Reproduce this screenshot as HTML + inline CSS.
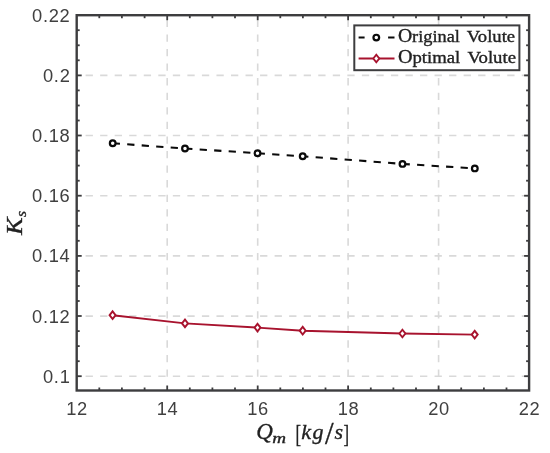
<!DOCTYPE html>
<html><head><meta charset="utf-8"><title>Chart</title>
<style>html,body{margin:0;padding:0;background:#fff}svg{display:block}.t{font-family:"Liberation Sans",sans-serif;font-size:18.3px;fill:#404040;letter-spacing:0.7px}.s{font-family:"Liberation Serif",serif;fill:#222;stroke:#222;stroke-width:0.35px}</style></head><body>
<svg width="550" height="453" viewBox="0 0 550 453">
<rect width="550" height="453" fill="#fff"/>
<g stroke="#d9d9d9" stroke-width="1.6" stroke-dasharray="7.3 7.24" fill="none">
<line x1="167.2" y1="376.8" x2="167.2" y2="15.2" stroke-dasharray="7.3 7.27"/>
<line x1="257.7" y1="376.8" x2="257.7" y2="15.2" stroke-dasharray="7.3 7.27"/>
<line x1="348.1" y1="376.8" x2="348.1" y2="15.2" stroke-dasharray="7.3 7.27"/>
<line x1="438.6" y1="376.8" x2="438.6" y2="15.2" stroke-dasharray="7.3 7.27"/>
<line x1="529.1" y1="376.2" x2="76.7" y2="376.2"/>
<line x1="529.1" y1="316.1" x2="76.7" y2="316.1"/>
<line x1="529.1" y1="255.9" x2="76.7" y2="255.9"/>
<line x1="529.1" y1="195.7" x2="76.7" y2="195.7"/>
<line x1="529.1" y1="135.5" x2="76.7" y2="135.5"/>
<line x1="529.1" y1="75.4" x2="76.7" y2="75.4"/>
</g>
<g stroke="#3d3d3f" stroke-width="1.8" fill="none">
<line x1="99.3" y1="390.5" x2="99.3" y2="387.5"/><line x1="99.3" y1="15.2" x2="99.3" y2="18.2"/>
<line x1="121.9" y1="390.5" x2="121.9" y2="387.5"/><line x1="121.9" y1="15.2" x2="121.9" y2="18.2"/>
<line x1="144.6" y1="390.5" x2="144.6" y2="387.5"/><line x1="144.6" y1="15.2" x2="144.6" y2="18.2"/>
<line x1="167.2" y1="390.5" x2="167.2" y2="385.5"/><line x1="167.2" y1="15.2" x2="167.2" y2="20.2"/>
<line x1="189.8" y1="390.5" x2="189.8" y2="387.5"/><line x1="189.8" y1="15.2" x2="189.8" y2="18.2"/>
<line x1="212.4" y1="390.5" x2="212.4" y2="387.5"/><line x1="212.4" y1="15.2" x2="212.4" y2="18.2"/>
<line x1="235.0" y1="390.5" x2="235.0" y2="387.5"/><line x1="235.0" y1="15.2" x2="235.0" y2="18.2"/>
<line x1="257.7" y1="390.5" x2="257.7" y2="385.5"/><line x1="257.7" y1="15.2" x2="257.7" y2="20.2"/>
<line x1="280.3" y1="390.5" x2="280.3" y2="387.5"/><line x1="280.3" y1="15.2" x2="280.3" y2="18.2"/>
<line x1="302.9" y1="390.5" x2="302.9" y2="387.5"/><line x1="302.9" y1="15.2" x2="302.9" y2="18.2"/>
<line x1="325.5" y1="390.5" x2="325.5" y2="387.5"/><line x1="325.5" y1="15.2" x2="325.5" y2="18.2"/>
<line x1="348.1" y1="390.5" x2="348.1" y2="385.5"/><line x1="348.1" y1="15.2" x2="348.1" y2="20.2"/>
<line x1="370.8" y1="390.5" x2="370.8" y2="387.5"/><line x1="370.8" y1="15.2" x2="370.8" y2="18.2"/>
<line x1="393.4" y1="390.5" x2="393.4" y2="387.5"/><line x1="393.4" y1="15.2" x2="393.4" y2="18.2"/>
<line x1="416.0" y1="390.5" x2="416.0" y2="387.5"/><line x1="416.0" y1="15.2" x2="416.0" y2="18.2"/>
<line x1="438.6" y1="390.5" x2="438.6" y2="385.5"/><line x1="438.6" y1="15.2" x2="438.6" y2="20.2"/>
<line x1="461.2" y1="390.5" x2="461.2" y2="387.5"/><line x1="461.2" y1="15.2" x2="461.2" y2="18.2"/>
<line x1="483.9" y1="390.5" x2="483.9" y2="387.5"/><line x1="483.9" y1="15.2" x2="483.9" y2="18.2"/>
<line x1="506.5" y1="390.5" x2="506.5" y2="387.5"/><line x1="506.5" y1="15.2" x2="506.5" y2="18.2"/>
<line x1="76.7" y1="376.2" x2="81.7" y2="376.2"/><line x1="529.1" y1="376.2" x2="524.1" y2="376.2"/>
<line x1="76.7" y1="361.2" x2="79.7" y2="361.2"/><line x1="529.1" y1="361.2" x2="526.1" y2="361.2"/>
<line x1="76.7" y1="346.1" x2="79.7" y2="346.1"/><line x1="529.1" y1="346.1" x2="526.1" y2="346.1"/>
<line x1="76.7" y1="331.1" x2="79.7" y2="331.1"/><line x1="529.1" y1="331.1" x2="526.1" y2="331.1"/>
<line x1="76.7" y1="316.0" x2="81.7" y2="316.0"/><line x1="529.1" y1="316.0" x2="524.1" y2="316.0"/>
<line x1="76.7" y1="301.0" x2="79.7" y2="301.0"/><line x1="529.1" y1="301.0" x2="526.1" y2="301.0"/>
<line x1="76.7" y1="286.0" x2="79.7" y2="286.0"/><line x1="529.1" y1="286.0" x2="526.1" y2="286.0"/>
<line x1="76.7" y1="270.9" x2="79.7" y2="270.9"/><line x1="529.1" y1="270.9" x2="526.1" y2="270.9"/>
<line x1="76.7" y1="255.9" x2="81.7" y2="255.9"/><line x1="529.1" y1="255.9" x2="524.1" y2="255.9"/>
<line x1="76.7" y1="240.8" x2="79.7" y2="240.8"/><line x1="529.1" y1="240.8" x2="526.1" y2="240.8"/>
<line x1="76.7" y1="225.8" x2="79.7" y2="225.8"/><line x1="529.1" y1="225.8" x2="526.1" y2="225.8"/>
<line x1="76.7" y1="210.8" x2="79.7" y2="210.8"/><line x1="529.1" y1="210.8" x2="526.1" y2="210.8"/>
<line x1="76.7" y1="195.7" x2="81.7" y2="195.7"/><line x1="529.1" y1="195.7" x2="524.1" y2="195.7"/>
<line x1="76.7" y1="180.7" x2="79.7" y2="180.7"/><line x1="529.1" y1="180.7" x2="526.1" y2="180.7"/>
<line x1="76.7" y1="165.6" x2="79.7" y2="165.6"/><line x1="529.1" y1="165.6" x2="526.1" y2="165.6"/>
<line x1="76.7" y1="150.6" x2="79.7" y2="150.6"/><line x1="529.1" y1="150.6" x2="526.1" y2="150.6"/>
<line x1="76.7" y1="135.5" x2="81.7" y2="135.5"/><line x1="529.1" y1="135.5" x2="524.1" y2="135.5"/>
<line x1="76.7" y1="120.5" x2="79.7" y2="120.5"/><line x1="529.1" y1="120.5" x2="526.1" y2="120.5"/>
<line x1="76.7" y1="105.5" x2="79.7" y2="105.5"/><line x1="529.1" y1="105.5" x2="526.1" y2="105.5"/>
<line x1="76.7" y1="90.4" x2="79.7" y2="90.4"/><line x1="529.1" y1="90.4" x2="526.1" y2="90.4"/>
<line x1="76.7" y1="75.4" x2="81.7" y2="75.4"/><line x1="529.1" y1="75.4" x2="524.1" y2="75.4"/>
<line x1="76.7" y1="60.3" x2="79.7" y2="60.3"/><line x1="529.1" y1="60.3" x2="526.1" y2="60.3"/>
<line x1="76.7" y1="45.3" x2="79.7" y2="45.3"/><line x1="529.1" y1="45.3" x2="526.1" y2="45.3"/>
<line x1="76.7" y1="30.2" x2="79.7" y2="30.2"/><line x1="529.1" y1="30.2" x2="526.1" y2="30.2"/>
</g>
<rect x="76.7" y="15.2" width="452.4" height="375.3" fill="none" stroke="#3d3d3f" stroke-width="2.4"/>
<text class="t" x="70.5" y="21.7" text-anchor="end">0.22</text>
<text class="t" x="70.5" y="81.9" text-anchor="end">0.2</text>
<text class="t" x="70.5" y="142.0" text-anchor="end">0.18</text>
<text class="t" x="70.5" y="202.2" text-anchor="end">0.16</text>
<text class="t" x="70.5" y="262.4" text-anchor="end">0.14</text>
<text class="t" x="70.5" y="322.6" text-anchor="end">0.12</text>
<text class="t" x="70.5" y="382.7" text-anchor="end">0.1</text>
<text class="t" x="77.0" y="415.3" text-anchor="middle">12</text>
<text class="t" x="167.5" y="415.3" text-anchor="middle">14</text>
<text class="t" x="258.0" y="415.3" text-anchor="middle">16</text>
<text class="t" x="348.5" y="415.3" text-anchor="middle">18</text>
<text class="t" x="439.0" y="415.3" text-anchor="middle">20</text>
<text class="t" x="529.5" y="415.3" text-anchor="middle">22</text>
<polyline fill="none" stroke="#0a0a0a" stroke-width="2.05" stroke-dasharray="7.265 7.265" points="112.7,143.3 185.0,148.5 257.5,153.2 302.7,156.3 402.5,163.9 474.8,168.4"/>
<circle cx="112.7" cy="143.3" r="2.85" fill="#fff" stroke="#0a0a0a" stroke-width="2.2"/>
<circle cx="185.0" cy="148.5" r="2.85" fill="#fff" stroke="#0a0a0a" stroke-width="2.2"/>
<circle cx="257.5" cy="153.2" r="2.85" fill="#fff" stroke="#0a0a0a" stroke-width="2.2"/>
<circle cx="302.7" cy="156.3" r="2.85" fill="#fff" stroke="#0a0a0a" stroke-width="2.2"/>
<circle cx="402.5" cy="163.9" r="2.85" fill="#fff" stroke="#0a0a0a" stroke-width="2.2"/>
<circle cx="474.8" cy="168.4" r="2.85" fill="#fff" stroke="#0a0a0a" stroke-width="2.2"/>
<polyline fill="none" stroke="#a8132e" stroke-width="1.95" points="112.6,315.2 185.0,323.4 257.5,327.6 302.7,330.7 402.4,333.5 474.7,334.6"/>
<path d="M109.6 315.2L112.6 311.4L115.6 315.2L112.6 319.0Z" fill="#fff" stroke="#a8132e" stroke-width="1.9" stroke-miterlimit="10" stroke-linejoin="miter"/>
<path d="M182.0 323.4L185.0 319.6L188.0 323.4L185.0 327.2Z" fill="#fff" stroke="#a8132e" stroke-width="1.9" stroke-miterlimit="10" stroke-linejoin="miter"/>
<path d="M254.5 327.6L257.5 323.8L260.5 327.6L257.5 331.4Z" fill="#fff" stroke="#a8132e" stroke-width="1.9" stroke-miterlimit="10" stroke-linejoin="miter"/>
<path d="M299.7 330.7L302.7 326.9L305.7 330.7L302.7 334.5Z" fill="#fff" stroke="#a8132e" stroke-width="1.9" stroke-miterlimit="10" stroke-linejoin="miter"/>
<path d="M399.4 333.5L402.4 329.7L405.4 333.5L402.4 337.3Z" fill="#fff" stroke="#a8132e" stroke-width="1.9" stroke-miterlimit="10" stroke-linejoin="miter"/>
<path d="M471.7 334.6L474.7 330.8L477.7 334.6L474.7 338.4Z" fill="#fff" stroke="#a8132e" stroke-width="1.9" stroke-miterlimit="10" stroke-linejoin="miter"/>
<rect x="354.3" y="25.4" width="165.1" height="44.8" fill="#fff" stroke="#3d3d3f" stroke-width="2"/>
<line x1="358.6" y1="37.6" x2="394.5" y2="37.6" stroke="#0a0a0a" stroke-width="2" stroke-dasharray="6 23.5 6.5 10"/>
<circle cx="376.3" cy="37.6" r="2.85" fill="#fff" stroke="#0a0a0a" stroke-width="2.2"/>
<line x1="358.6" y1="58.5" x2="394.5" y2="58.5" stroke="#a8132e" stroke-width="1.95"/>
<path d="M373.3 58.5L376.3 54.7L379.3 58.5L376.3 62.3Z" fill="#fff" stroke="#a8132e" stroke-width="1.9" stroke-miterlimit="10" stroke-linejoin="miter"/>
<text class="s" y="41.7" font-size="17.3px"><tspan x="397.9" textLength="62" lengthAdjust="spacingAndGlyphs"><tspan font-size="18.6px">O</tspan>riginal</tspan> <tspan x="466.8" textLength="48.3" lengthAdjust="spacingAndGlyphs">Volute</tspan></text>
<text class="s" y="62.9" font-size="17.3px"><tspan x="397.9" textLength="62.4" lengthAdjust="spacingAndGlyphs"><tspan font-size="18.6px">O</tspan>ptimal</tspan> <tspan x="467.4" textLength="48.6" lengthAdjust="spacingAndGlyphs">Volute</tspan></text>
<text class="s" y="439.3" font-size="22px"><tspan font-style="italic" x="256.3" font-size="24px" textLength="16.6" lengthAdjust="spacingAndGlyphs">Q</tspan><tspan font-style="italic" x="272.2" y="442.5" font-size="14.5px" textLength="13.8" lengthAdjust="spacingAndGlyphs">m</tspan><tspan font-style="italic" x="301.3" y="439.3">k</tspan><tspan font-style="italic" x="312.6">g</tspan><tspan font-style="italic" x="334.6">s</tspan></text>
<text class="s" font-size="31px" x="324.9" y="444.2">/</text>
<text class="s" font-size="22.5px" transform="translate(295.6,441.5) scale(0.74,1.085)">[</text>
<text class="s" font-size="22.5px" transform="translate(343.6,441.5) scale(0.74,1.085)">]</text>
<g transform="translate(22.4,234.9) rotate(-90)"><text class="s" font-size="23.5px" font-style="italic"><tspan x="0" y="0" textLength="17.6" lengthAdjust="spacingAndGlyphs">K</tspan><tspan x="17.9" y="3.2" font-size="15.5px">s</tspan></text></g>
</svg>
</body></html>
